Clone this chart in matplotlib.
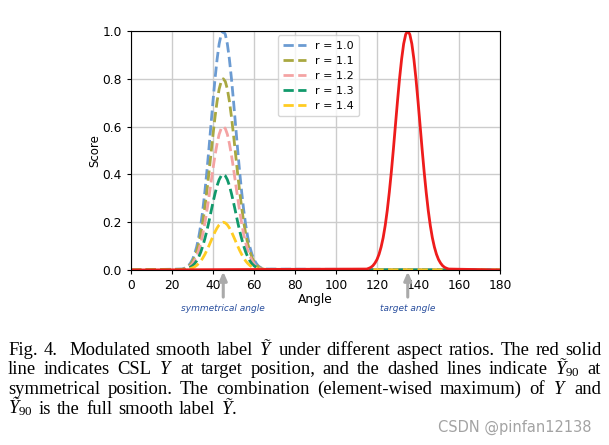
import matplotlib
matplotlib.use("Agg")
import matplotlib.pyplot as plt

# values (score vs angle)
sym_angles = list(range(25, 66))      # dashed curves, centred on 45
tgt_angles = list(range(115, 156))    # red CSL curve, centred on 135

r10 = [0.004, 0.007, 0.011, 0.018, 0.029, 0.044, 0.066, 0.096, 0.135, 0.186, 0.249, 0.325, 0.411, 0.506,
       0.607, 0.707, 0.801, 0.882, 0.946, 0.986, 1.000, 0.986, 0.946, 0.882, 0.801, 0.707, 0.607, 0.506,
       0.411, 0.325, 0.249, 0.186, 0.135, 0.096, 0.066, 0.044, 0.029, 0.018, 0.011, 0.007, 0.004]
r11 = [0.003, 0.005, 0.009, 0.014, 0.023, 0.035, 0.053, 0.077, 0.108, 0.149, 0.199, 0.260, 0.329, 0.405,
       0.486, 0.566, 0.641, 0.706, 0.757, 0.789, 0.800, 0.789, 0.757, 0.706, 0.641, 0.566, 0.486, 0.405,
       0.329, 0.260, 0.199, 0.149, 0.108, 0.077, 0.053, 0.035, 0.023, 0.014, 0.009, 0.005, 0.003]
r12 = [0.002, 0.004, 0.007, 0.011, 0.017, 0.026, 0.040, 0.058, 0.081, 0.112, 0.149, 0.195, 0.247, 0.304,
       0.364, 0.424, 0.481, 0.529, 0.568, 0.592, 0.600, 0.592, 0.568, 0.529, 0.481, 0.424, 0.364, 0.304,
       0.247, 0.195, 0.149, 0.112, 0.081, 0.058, 0.040, 0.026, 0.017, 0.011, 0.007, 0.004, 0.002]
r13 = [0.002, 0.003, 0.004, 0.007, 0.012, 0.018, 0.026, 0.038, 0.054, 0.074, 0.100, 0.130, 0.164, 0.202,
       0.243, 0.283, 0.320, 0.353, 0.378, 0.394, 0.400, 0.394, 0.378, 0.353, 0.320, 0.283, 0.243, 0.202,
       0.164, 0.130, 0.100, 0.074, 0.054, 0.038, 0.026, 0.018, 0.012, 0.007, 0.004, 0.003, 0.002]
r14 = [0.001, 0.001, 0.002, 0.004, 0.006, 0.009, 0.013, 0.019, 0.027, 0.037, 0.050, 0.065, 0.082, 0.101,
       0.121, 0.141, 0.160, 0.176, 0.189, 0.197, 0.200, 0.197, 0.189, 0.176, 0.160, 0.141, 0.121, 0.101,
       0.082, 0.065, 0.050, 0.037, 0.027, 0.019, 0.013, 0.009, 0.006, 0.004, 0.002, 0.001, 0.001]
csl = [0.004, 0.007, 0.011, 0.018, 0.029, 0.044, 0.066, 0.096, 0.135, 0.186, 0.249, 0.325, 0.411, 0.506,
       0.607, 0.707, 0.801, 0.882, 0.946, 0.986, 1.000, 0.986, 0.946, 0.882, 0.801, 0.707, 0.607, 0.506,
       0.411, 0.325, 0.249, 0.186, 0.135, 0.096, 0.066, 0.044, 0.029, 0.018, 0.011, 0.007, 0.004]

labels = ["r = 1.0", "r = 1.1", "r = 1.2", "r = 1.3", "r = 1.4"]
series = [r10, r11, r12, r13, r14]
colors = ["#6b9bd2", "#a9a841", "#f4a3a3", "#11996b", "#ffcc22"]

caption = [
    ["Fig.", "4.", "", "Modulated", "smooth", "label", "$Ỹ$", "under", "different", "aspect",
     "ratios.", "The", "red", "solid"],
    ["line", "indicates", "CSL", "$Y$", "at", "target", "position,", "and", "the", "dashed", "lines",
     "indicate", "$Ỹ_{90}$", "at"],
    ["symmetrical", "position.", "The", "combination", "(element-wised", "maximum)", "of", "$Y$", "and"],
    ["$Ỹ_{90}$", "is", "the", "full", "smooth", "label", "$Ỹ$."],
]

plt.rcParams["mathtext.fontset"] = "custom"
plt.rcParams["mathtext.rm"] = "Liberation Serif"
plt.rcParams["mathtext.it"] = "Liberation Serif:italic"

W, H = 609, 445
fig = plt.figure(figsize=(W / 100, H / 100), dpi=100)
ax = fig.add_axes([131 / W, 1 - 270 / H, 369 / W, 239 / H])

for vals, c, lab in zip(series, colors, labels):
    ax.plot([0] + sym_angles + [180], [0] + vals + [0], "--", color=c, lw=2, label=lab)
ax.plot([0] + tgt_angles + [180], [0] + csl + [0], color="#ee1c1c", lw=2)

ax.set_xlim(0, 180)
ax.set_ylim(0, 1.0)
ax.set_xticks(range(0, 181, 20))
ax.set_yticks([0, 0.2, 0.4, 0.6, 0.8, 1.0])
ax.tick_params(labelsize=8.8, length=3)
ax.grid(True, color="#cccccc", lw=1)
ax.set_axisbelow(True)
ax.set_xlabel("Angle", fontsize=8.8, labelpad=1)
ax.set_ylabel("Score", fontsize=8.5, labelpad=1)
ax.legend(loc="upper left", bbox_to_anchor=(0.383, 1.005), fontsize=8, handlelength=2.0,
          labelspacing=0.45, borderpad=0.5)

# arrows pointing at the two angles
for ang, txt in [(45, "symmetrical angle"), (135, "target angle")]:
    ax.annotate("", xy=(ang, 0.005), xytext=(ang, -0.125), xycoords="data",
                arrowprops=dict(arrowstyle="-|>,head_width=0.22,head_length=0.5", color="#aaaaaa", lw=2.2),
                annotation_clip=False)
    ax.text(ang, -0.16, txt, ha="center", va="center", fontsize=6.5, style="italic", color="#2a4f9e")

# justified caption
renderer = fig.canvas.get_renderer()
x0, x1 = 8, 601
baselines = [355, 374.5, 394, 413.5]
for i, (words, yb) in enumerate(zip(caption, baselines)):
    texts = [fig.text(0, 1 - yb / H, w, fontsize=13.4, family="Liberation Serif", va="baseline")
             for w in words]
    widths = [t.get_window_extent(renderer).width for t in texts]
    if i < len(caption) - 1:
        gap = (x1 - x0 - sum(widths)) / (len(words) - 1)
    else:
        gap = 6
    x = x0
    for t, w in zip(texts, widths):
        t.set_x(x / W)
        x += w + gap

fig.text(592 / W, 1 - 432 / H, "CSDN @pinfan12138", ha="right", va="baseline", fontsize=10.5,
         color="#a3a3a3")

fig.savefig("out.png", dpi=100)
